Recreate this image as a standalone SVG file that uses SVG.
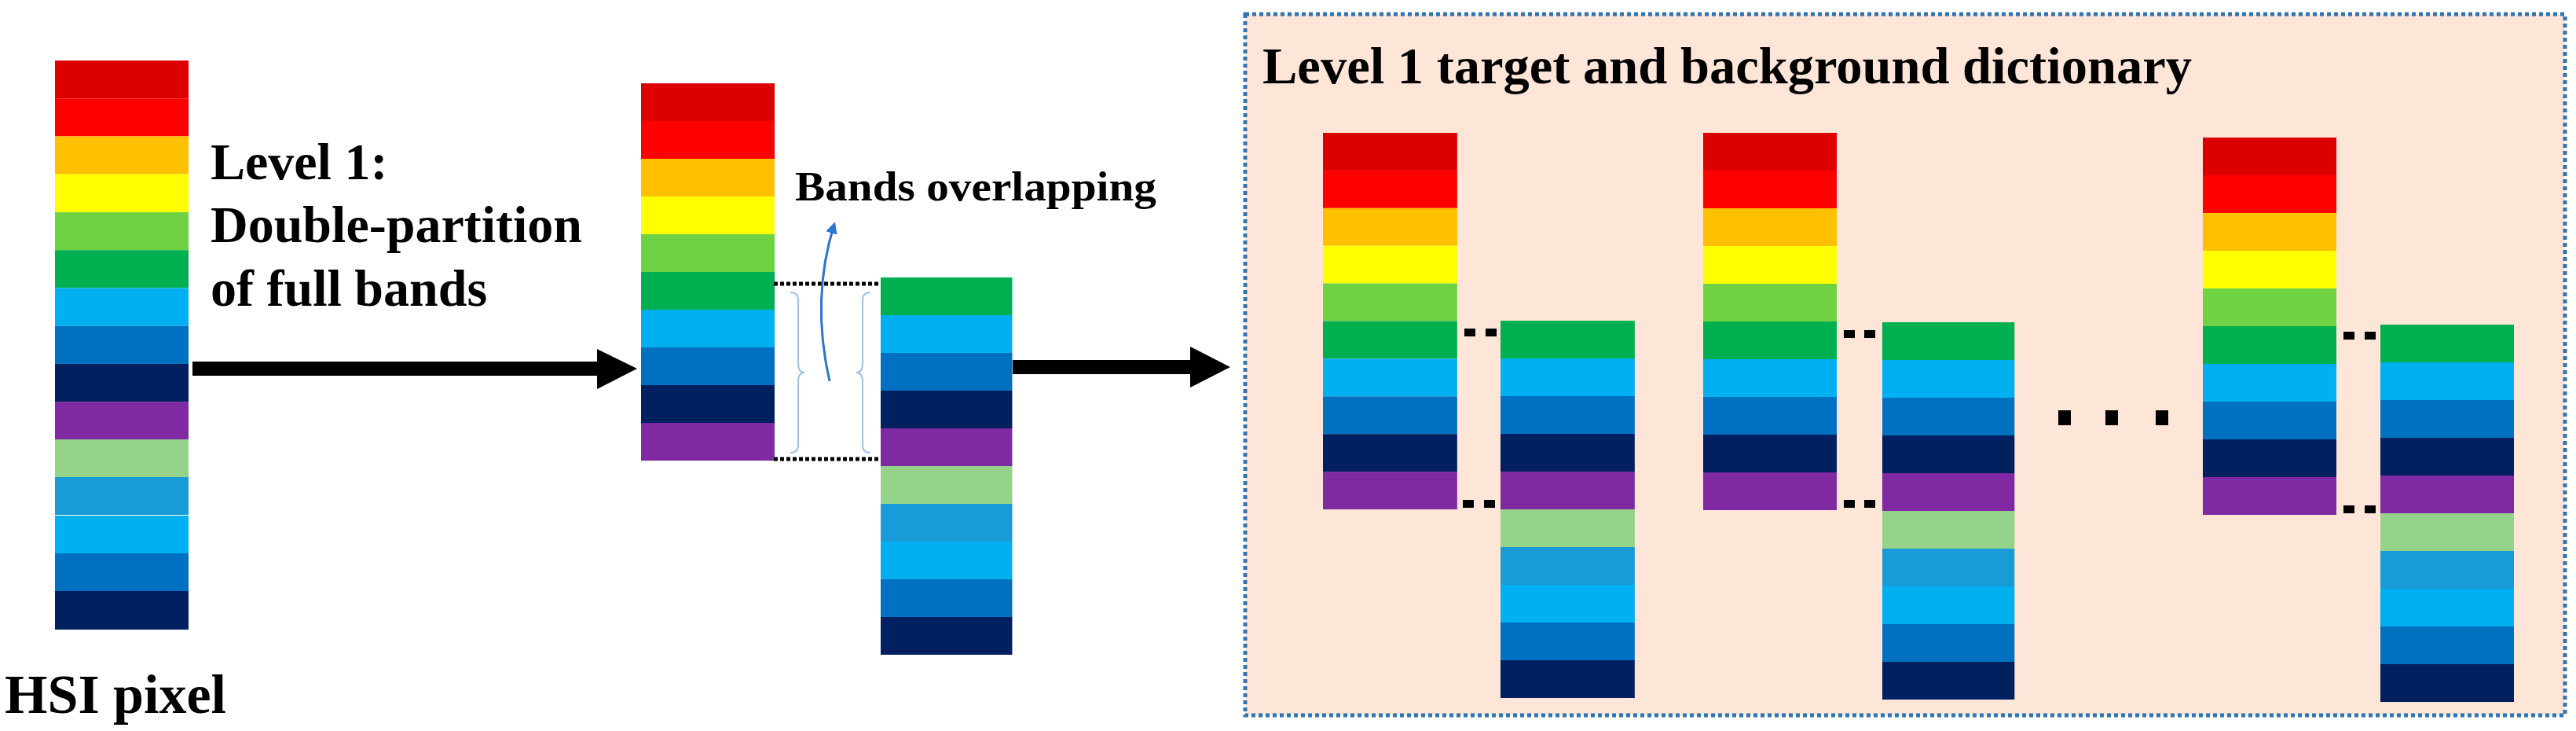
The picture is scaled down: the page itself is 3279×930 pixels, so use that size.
<svg xmlns="http://www.w3.org/2000/svg" xmlns:xlink="http://www.w3.org/1999/xlink" width="3279" height="930" viewBox="0 0 3279 930">
<style>
.t{font-family:"Liberation Serif","Times New Roman",serif;font-weight:bold;fill:#000}
.c1{fill:#DC0000}.c2{fill:#FF0000}.c3{fill:#FFC000}.c4{fill:#FFFF00}.c5{fill:#6FD243}.c6{fill:#00B050}.c7{fill:#00B0F0}.c8{fill:#0070C0}.c9{fill:#002060}.c10{fill:#7F2AA2}.c11{fill:#95D38A}.c12{fill:#189BD7}
.dot{fill:#000}
</style>
<defs>
<g id="top">
<rect class="c1" x="0" y="0" width="170" height="48"/><rect class="c2" x="0" y="48" width="170" height="48"/><rect class="c3" x="0" y="96" width="170" height="48"/><rect class="c4" x="0" y="144" width="170" height="48"/><rect class="c5" x="0" y="192" width="170" height="48"/><rect class="c6" x="0" y="240" width="170" height="48"/><rect class="c7" x="0" y="288" width="170" height="48"/><rect class="c8" x="0" y="336" width="170" height="48"/><rect class="c9" x="0" y="384" width="170" height="48"/><rect class="c10" x="0" y="432" width="170" height="48"/>
</g>
<g id="bot">
<rect class="c6" x="0" y="0" width="170" height="48"/><rect class="c7" x="0" y="48" width="170" height="48"/><rect class="c8" x="0" y="96" width="170" height="48"/><rect class="c9" x="0" y="144" width="170" height="48"/><rect class="c10" x="0" y="192" width="170" height="48"/><rect class="c11" x="0" y="240" width="170" height="48"/><rect class="c12" x="0" y="288" width="170" height="48"/><rect class="c7" x="0" y="336" width="170" height="48"/><rect class="c8" x="0" y="384" width="170" height="48"/><rect class="c9" x="0" y="432" width="170" height="48"/>
</g>
<marker id="ba" viewBox="0 0 10 10" refX="8" refY="5" markerWidth="5" markerHeight="5" orient="auto"><path d="M0,0 L10,5 L0,10 z" fill="#2E75D0"/></marker>
</defs>

<rect id="dictbox" x="1585" y="18" width="1680" height="892" fill="#FDE5D7" stroke="#2E75B6" stroke-width="5" stroke-dasharray="5,4"/>

<g id="hsi">
<use xlink:href="#top" transform="translate(70,77) scale(1,1.005)"/>
<rect class="c11" x="70" y="559" width="170" height="48"/><rect class="c12" x="70" y="607" width="170" height="48"/><rect class="c7" x="70" y="656" width="170" height="48"/><rect class="c8" x="70" y="704" width="170" height="48"/><rect class="c9" x="70" y="752" width="170" height="49"/>
<text class="t" x="6" y="907" font-size="70">HSI pixel</text>
</g>

<g id="level1label"><text class="t" font-size="66"><tspan x="268" y="228">Level 1:</tspan><tspan x="268" y="308">Double-partition</tspan><tspan x="268" y="389">of full bands</tspan></text></g>

<g id="partA"><use xlink:href="#top" transform="translate(816,106)"/></g>
<g id="partB"><use xlink:href="#bot" transform="translate(1121,353) scale(0.985,1)"/></g>

<g id="overlap">
<path d="M985,361 H1121 M985,584 H1121" stroke="#000" stroke-width="5" stroke-dasharray="5,3"/>
<path d="M1006,372 q10,0 10,10 v80 q0,12 8,12 q-8,0 -8,12 v80 q0,10 -10,10" fill="none" stroke="#9DC3E6" stroke-width="2"/>
<path d="M1108,372 q-10,0 -10,10 v80 q0,12 -8,12 q8,0 8,12 v80 q0,10 10,10" fill="none" stroke="#9DC3E6" stroke-width="2"/>
<path d="M1056,485 Q1032,380 1062,285" fill="none" stroke="#2E75D0" stroke-width="3" marker-end="url(#ba)"/>
<text class="t" x="1012" y="255" font-size="52" textLength="460" lengthAdjust="spacingAndGlyphs">Bands overlapping</text>
</g>

<g id="connectors">
<path d="M245,469 H765" stroke="#000" stroke-width="18"/><path d="M760,444 L811,469 L760,495 z"/>
<path d="M1289,467 H1520" stroke="#000" stroke-width="18"/><path d="M1515,441 L1566,467 L1515,493 z"/>
</g>

<text id="dicttitle" class="t" x="1607" y="106" font-size="66" textLength="1183" lengthAdjust="spacingAndGlyphs">Level 1 target and background dictionary</text>

<g id="dict1">
<use xlink:href="#top" transform="translate(1684,169) scale(1.005,0.998)"/>
<use xlink:href="#bot" transform="translate(1910,408) scale(1.005,1)"/>
<rect class="dot" x="1864" y="418" width="14" height="10"/><rect class="dot" x="1891" y="418" width="14" height="10"/>
<rect class="dot" x="1862" y="636" width="14" height="10"/><rect class="dot" x="1889" y="636" width="14" height="10"/>
</g>
<g id="dict2">
<use xlink:href="#top" transform="translate(2168,169)"/>
<use xlink:href="#bot" transform="translate(2396,410) scale(0.99,1)"/>
<rect class="dot" x="2347" y="420" width="14" height="10"/><rect class="dot" x="2373" y="420" width="14" height="10"/>
<rect class="dot" x="2347" y="636" width="14" height="10"/><rect class="dot" x="2373" y="636" width="14" height="10"/>
</g>
<g id="dots"><rect class="dot" x="2620" y="522" width="16" height="19"/><rect class="dot" x="2680" y="522" width="16" height="19"/><rect class="dot" x="2744" y="522" width="16" height="19"/></g>
<g id="dict3">
<use xlink:href="#top" transform="translate(2804,175)"/>
<use xlink:href="#bot" transform="translate(3030,413)"/>
<rect class="dot" x="2983" y="422" width="14" height="10"/><rect class="dot" x="3010" y="422" width="14" height="10"/>
<rect class="dot" x="2983" y="643" width="14" height="10"/><rect class="dot" x="3010" y="643" width="14" height="10"/>
</g>
</svg>
